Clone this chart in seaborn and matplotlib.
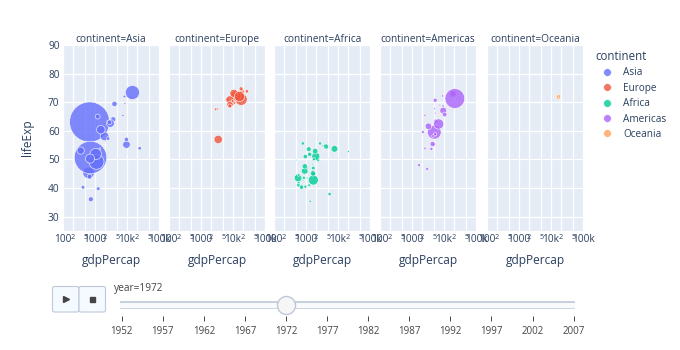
import numpy as np
import pandas as pd
import matplotlib.pyplot as plt
import seaborn as sns
from matplotlib.lines import Line2D
from matplotlib.patches import FancyBboxPatch
from matplotlib.transforms import blended_transform_factory

# gapminder, frame year=1972 (gdpPercap, lifeExp, pop in millions)
continents = ['Asia', 'Europe', 'Africa', 'Americas', 'Oceania']
palette = ['#636efa', '#EF553B', '#00cc96', '#ab63fa', '#FFA15A']

asia_gdp = [740, 18269, 630, 422, 677, 8316, 724, 1111, 9614, 9576, 12787, 14779, 2111, 3702, 3031, 109348,
            7486, 2849, 1422, 357, 675, 10618, 1050, 1989, 24837, 8598, 1213, 2571, 4063, 1524, 700, 3133, 1265]
asia_life = [36.1, 63.3, 45.3, 40.3, 63.1, 72.0, 50.7, 49.2, 55.2, 57.0, 71.6, 73.4, 56.5, 64.0, 62.6, 67.7,
             65.4, 63.0, 53.8, 53.1, 44.0, 52.1, 51.9, 58.1, 53.9, 69.5, 65.0, 57.3, 69.4, 60.4, 50.3, 56.5, 39.8]
asia_pop = [13.08, 0.23, 70.76, 7.45, 862.03, 4.12, 567.0, 121.28, 30.61, 10.06, 3.10, 107.19, 1.61, 14.78, 33.51, 0.84,
            2.68, 11.44, 1.32, 28.47, 12.41, 0.83, 69.33, 40.85, 6.47, 2.15, 13.02, 6.70, 15.23, 39.28, 44.66, 1.09, 7.41]

eu_gdp = [3313, 16662, 19118, 2860, 6597, 9164, 13108, 18866, 14359, 16107, 18016, 12725, 10169, 15798, 9531,
          12269, 7778, 18795, 18965, 8007, 9022, 8011, 7992, 9674, 12383, 10639, 17832, 27195, 3451, 15895]
eu_life = [67.7, 70.6, 71.4, 67.5, 70.9, 69.6, 70.3, 73.5, 70.9, 72.4, 71.0, 72.3, 69.8, 74.5, 71.3,
           72.2, 70.6, 73.8, 74.3, 70.9, 69.3, 69.2, 68.7, 70.4, 69.8, 73.1, 74.7, 73.8, 57.0, 72.0]
eu_pop = [2.26, 7.54, 9.71, 3.82, 8.58, 4.23, 9.86, 4.99, 4.64, 51.73, 78.72, 8.89, 10.39, 0.21, 3.02,
          54.37, 0.53, 13.33, 3.93, 33.04, 8.97, 20.66, 8.31, 4.59, 1.69, 34.51, 8.12, 6.40, 37.49, 56.08]

af_gdp = [4183, 5473, 1086, 1215, 855, 464, 1684, 1070, 1104, 1938, 906, 3213, 2378, 3694, 2024, 672, 514, 566,
          11402, 756, 1303, 742, 820, 1222, 496, 803, 21012, 1749, 585, 581, 1587, 2575, 1930, 725, 3746, 954,
          1698, 5048, 591, 1533, 1598, 1354, 1255, 7766, 1660, 3365, 916, 1650, 2753, 951, 1774, 799]
af_life = [54.5, 37.9, 47.0, 56.0, 43.6, 44.1, 47.0, 43.5, 45.6, 48.9, 46.0, 54.9, 49.8, 44.4, 51.1, 40.5, 44.5, 43.5,
           52.8, 38.3, 51.8, 40.8, 36.5, 53.6, 49.8, 42.6, 52.8, 44.9, 41.8, 41.0, 48.4, 62.9, 52.9, 40.3, 53.9, 40.5,
           42.8, 64.3, 44.6, 56.5, 45.8, 35.4, 41.0, 53.7, 45.1, 49.6, 47.6, 49.8, 55.6, 51.0, 50.1, 55.6]
af_pop = [14.76, 5.89, 2.76, 0.62, 5.43, 3.53, 7.02, 1.84, 3.90, 0.25, 23.01, 1.34, 6.07, 0.18, 34.81, 0.28, 2.26, 30.77,
          0.54, 0.52, 9.35, 4.00, 0.63, 12.04, 1.12, 1.48, 2.18, 7.08, 4.73, 6.49, 1.33, 0.85, 16.66, 9.81, 0.82, 5.06,
          53.74, 0.47, 3.99, 0.08, 4.59, 2.88, 3.84, 23.94, 14.60, 0.48, 14.71, 2.06, 5.30, 10.19, 4.51, 5.86]

am_gdp = [9443, 2980, 4986, 18971, 5494, 3265, 5118, 5305, 2190, 5281, 4520, 4031, 1654, 2530, 7434, 6809, 4689,
          5364, 2523, 4420, 9123, 6620, 21806, 9348, 10505]
am_life = [67.1, 46.7, 59.5, 72.9, 63.4, 61.6, 67.8, 70.7, 59.6, 58.8, 58.2, 53.7, 48.0, 53.9, 69.0, 62.4, 55.2,
           66.2, 65.4, 55.4, 72.2, 65.9, 71.3, 68.7, 65.7]
am_pop = [24.78, 4.57, 100.84, 22.28, 9.72, 22.54, 1.83, 8.83, 4.67, 6.30, 3.79, 5.15, 4.70, 2.95, 2.00, 55.98, 2.18,
          1.62, 2.61, 13.95, 2.85, 0.98, 209.90, 2.83, 11.52]

oc_gdp = [16789, 16046]
oc_life = [71.9, 71.9]
oc_pop = [13.18, 2.93]

years = [1952, 1957, 1962, 1967, 1972, 1977, 1982, 1987, 1992, 1997, 2002, 2007]
current_year = 1972

x_major = [100, 1000, 10000, 100000]
x_major_labels = ['100', '1000', '10k', '100k']
x_minor = [200, 500, 2000, 5000, 20000, 50000]
x_minor_labels = ['2', '5', '2', '5', '2', '5']
y_ticks = [30, 40, 50, 60, 70, 80, 90]

frames = []
for cont, g, l, p in zip(continents, [asia_gdp, eu_gdp, af_gdp, am_gdp, oc_gdp],
                         [asia_life, eu_life, af_life, am_life, oc_life],
                         [asia_pop, eu_pop, af_pop, am_pop, oc_pop]):
    frames.append(pd.DataFrame({'continent': cont, 'gdpPercap': g, 'lifeExp': l, 'pop': p}))
df = pd.concat(frames, ignore_index=True)

sns.set_style('darkgrid', {'axes.facecolor': '#E5ECF6', 'grid.color': 'white'})
plt.rcParams['font.family'] = ['Open Sans', 'DejaVu Sans']

W, H = 680, 350
txt = '#2a3f5f'
fig = plt.figure(figsize=(W / 100, H / 100), dpi=100)


def rect(x0, y0, x1, y1):
    return [x0 / W, 1 - y1 / H, (x1 - x0) / W, (y1 - y0) / H]


# overlay in pixel coords for the animation buttons
oax = fig.add_axes([0, 0, 1, 1], zorder=-1)
oax.set_xlim(0, W)
oax.set_ylim(H, 0)
oax.axis('off')

lefts = [63, 169, 274, 380, 487]
pop_max = df['pop'].max()
for i, (cont, col) in enumerate(zip(continents, palette)):
    ax = fig.add_axes(rect(lefts[i], 45, lefts[i] + 96, 231))
    sub = df[df['continent'] == cont]
    sns.scatterplot(data=sub, x='gdpPercap', y='lifeExp', size='pop', sizes=(0, 830),
                    size_norm=(0, pop_max), color=col, alpha=0.8, edgecolor='white',
                    linewidth=0.5, legend=False, ax=ax)
    ax.set_xscale('log')
    ax.set_xlim(100, 100000)
    ax.set_ylim(25, 90)
    ax.set_xticks(x_major + x_minor)
    ax.set_xticklabels(x_major_labels + [''] * len(x_minor))
    ax.minorticks_off()
    ax.set_yticks(y_ticks)
    ax.grid(True, color='white', lw=0.9)
    for s in ax.spines.values():
        s.set_visible(False)
    ax.tick_params(length=0, labelsize=7.3, labelcolor=txt, pad=2.5)
    trans = blended_transform_factory(ax.transData, ax.transAxes)
    for xv, lab in zip(x_minor, x_minor_labels):
        ax.text(xv, -0.015, lab, transform=trans, ha='center', va='top', fontsize=5.3, color=txt)
    ax.set_title(f'continent={cont}', fontsize=7.3, color=txt, pad=2.5)
    ax.set_xlabel('gdpPercap', fontsize=8.6, color=txt)
    ax.xaxis.set_label_coords(0.5, -0.125)
    if i == 0:
        ax.set_ylabel('lifeExp', fontsize=8.6, color=txt)
        ax.yaxis.set_label_coords(-0.30, 0.5)
    else:
        ax.set_ylabel('')
        ax.set_yticklabels([])

handles = [Line2D([], [], marker='o', ls='', color=c, alpha=0.8, ms=5.5, mec='white', mew=0.4)
           for c in palette]
leg = fig.legend(handles, continents, title='continent', loc='upper left',
                 bbox_to_anchor=(595 / W, 1 - 50 / H), frameon=False, fontsize=7.2,
                 title_fontsize=8.3, labelcolor=txt, alignment='left', handlelength=2.3,
                 handletextpad=0.5, labelspacing=0.44, borderpad=0, borderaxespad=0)
leg.get_title().set_color(txt)

# play / stop buttons
for x0, mk, ms in [(52.5, '>', 4.2), (79, 's', 3.6)]:
    oax.add_patch(FancyBboxPatch((x0, 286.5), 26.5, 25.5, boxstyle='round,pad=0,rounding_size=2',
                                 fc='#f4faff', ec='#bec8d9', lw=0.8))
    oax.plot([x0 + 13.2], [299.2], marker=mk, ms=ms, color='#444', ls='')
oax.text(114, 288, f'year={current_year}', fontsize=7.3, color='#444', ha='left', va='center')

# slider
sax = fig.add_axes(rect(120, 280, 575, 345))
sax.set_xlim(years[0] - 0.2, years[-1] + 0.16)
sax.set_ylim(345, 280)
sax.axis('off')
sax.plot([years[0] - 0.05, years[-1]], [305, 305], lw=5.5, color='#bec8d9', solid_capstyle='round')
sax.plot([years[0] - 0.05, years[-1]], [305, 305], lw=3.8, color='#f8fafc', solid_capstyle='round')
sax.plot([current_year], [305], marker='o', ms=13, mfc='#f6f6f6', mec='#bec8d9', mew=1, ls='')
sax.vlines(years, 316.5, 321.5, color='#444', lw=0.7)
for yr in years:
    sax.text(yr, 332, str(yr), ha='center', va='center', fontsize=7, color='#444')

fig.savefig('out.png', dpi=100)
